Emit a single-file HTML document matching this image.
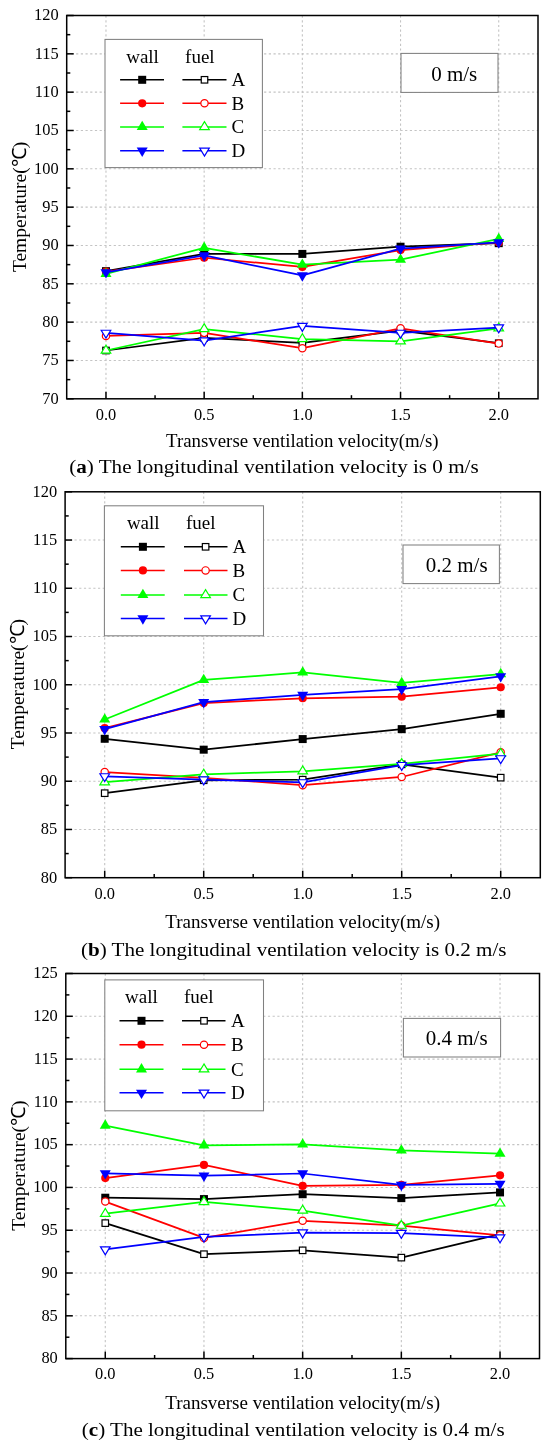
<!DOCTYPE html>
<html><head><meta charset="utf-8"><style>
html,body{margin:0;padding:0;background:#fff;}
body{width:550px;height:1447px;overflow:hidden;font-family:"Liberation Serif", serif;}
svg{display:block;filter:blur(0.35px);}
</style></head><body>
<svg width="550" height="1447" viewBox="0 0 550 1447" font-family='"Liberation Serif", serif'>
<rect width="550" height="1447" fill="#fff"/>
<line x1="105.98" y1="15.50" x2="105.98" y2="398.80" stroke="#c4c4c4" stroke-width="1.1" stroke-dasharray="2.2 2.5"/>
<line x1="204.16" y1="15.50" x2="204.16" y2="398.80" stroke="#c4c4c4" stroke-width="1.1" stroke-dasharray="2.2 2.5"/>
<line x1="302.35" y1="15.50" x2="302.35" y2="398.80" stroke="#c4c4c4" stroke-width="1.1" stroke-dasharray="2.2 2.5"/>
<line x1="400.54" y1="15.50" x2="400.54" y2="398.80" stroke="#c4c4c4" stroke-width="1.1" stroke-dasharray="2.2 2.5"/>
<line x1="498.73" y1="15.50" x2="498.73" y2="398.80" stroke="#c4c4c4" stroke-width="1.1" stroke-dasharray="2.2 2.5"/>
<line x1="66.70" y1="360.47" x2="538.00" y2="360.47" stroke="#c4c4c4" stroke-width="1.1" stroke-dasharray="2.2 2.5"/>
<line x1="66.70" y1="322.14" x2="538.00" y2="322.14" stroke="#c4c4c4" stroke-width="1.1" stroke-dasharray="2.2 2.5"/>
<line x1="66.70" y1="283.81" x2="538.00" y2="283.81" stroke="#c4c4c4" stroke-width="1.1" stroke-dasharray="2.2 2.5"/>
<line x1="66.70" y1="245.48" x2="538.00" y2="245.48" stroke="#c4c4c4" stroke-width="1.1" stroke-dasharray="2.2 2.5"/>
<line x1="66.70" y1="207.15" x2="538.00" y2="207.15" stroke="#c4c4c4" stroke-width="1.1" stroke-dasharray="2.2 2.5"/>
<line x1="66.70" y1="168.82" x2="538.00" y2="168.82" stroke="#c4c4c4" stroke-width="1.1" stroke-dasharray="2.2 2.5"/>
<line x1="66.70" y1="130.49" x2="538.00" y2="130.49" stroke="#c4c4c4" stroke-width="1.1" stroke-dasharray="2.2 2.5"/>
<line x1="66.70" y1="92.16" x2="538.00" y2="92.16" stroke="#c4c4c4" stroke-width="1.1" stroke-dasharray="2.2 2.5"/>
<line x1="66.70" y1="53.83" x2="538.00" y2="53.83" stroke="#c4c4c4" stroke-width="1.1" stroke-dasharray="2.2 2.5"/>
<rect x="105.00" y="39.40" width="157.40" height="128.20" fill="#fff" stroke="#808080" stroke-width="1.05"/>
<text x="126.20" y="62.50" font-size="19">wall</text>
<text x="185.10" y="62.50" font-size="19">fuel</text>
<line x1="120.10" y1="79.80" x2="164.00" y2="79.80" stroke="#000000" stroke-width="1.5"/>
<rect x="138.20" y="75.80" width="8.00" height="8.00" fill="#000000" stroke="#000000" stroke-width="0"/>
<line x1="182.40" y1="79.80" x2="226.50" y2="79.80" stroke="#000000" stroke-width="1.5"/>
<rect x="201.25" y="76.55" width="6.50" height="6.50" fill="#ffffff" stroke="#000000" stroke-width="1.2"/>
<text x="231.50" y="86.00" font-size="19">A</text>
<line x1="120.10" y1="103.30" x2="164.00" y2="103.30" stroke="#ff0000" stroke-width="1.5"/>
<circle cx="142.20" cy="103.30" r="4.10" fill="#ff0000" stroke="#ff0000" stroke-width="0"/>
<line x1="182.40" y1="103.30" x2="226.50" y2="103.30" stroke="#ff0000" stroke-width="1.5"/>
<circle cx="204.50" cy="103.30" r="3.65" fill="#ffffff" stroke="#ff0000" stroke-width="1.2"/>
<text x="231.50" y="109.50" font-size="19">B</text>
<line x1="120.10" y1="126.90" x2="164.00" y2="126.90" stroke="#00ff00" stroke-width="1.5"/>
<polygon points="142.20,120.63 136.70,130.03 147.70,130.03" fill="#00ff00" stroke="#00ff00" stroke-width="0" stroke-linejoin="miter"/>
<line x1="182.40" y1="126.90" x2="226.50" y2="126.90" stroke="#00ff00" stroke-width="1.5"/>
<polygon points="204.50,121.63 199.70,129.53 209.30,129.53" fill="#ffffff" stroke="#00ff00" stroke-width="1.2" stroke-linejoin="miter"/>
<text x="231.50" y="133.10" font-size="19">C</text>
<line x1="120.10" y1="150.70" x2="164.00" y2="150.70" stroke="#0000ff" stroke-width="1.5"/>
<polygon points="136.70,147.57 147.70,147.57 142.20,156.97" fill="#0000ff" stroke="#0000ff" stroke-width="0" stroke-linejoin="miter"/>
<line x1="182.40" y1="150.70" x2="226.50" y2="150.70" stroke="#0000ff" stroke-width="1.5"/>
<polygon points="199.70,148.07 209.30,148.07 204.50,155.97" fill="#ffffff" stroke="#0000ff" stroke-width="1.2" stroke-linejoin="miter"/>
<text x="231.50" y="156.90" font-size="19">D</text>
<rect x="401.00" y="53.40" width="97.00" height="39.00" fill="#fff" stroke="#808080" stroke-width="1.05"/>
<text x="454.20" y="80.60" font-size="21" text-anchor="middle">0 m/s</text>
<polyline points="105.98,271.16 204.16,253.91 302.35,253.91 400.54,246.71 498.73,243.18" fill="none" stroke="#000000" stroke-width="1.75" stroke-linejoin="round"/>
<rect x="101.98" y="267.16" width="8.00" height="8.00" fill="#000000" stroke="#000000" stroke-width="0"/>
<rect x="200.16" y="249.91" width="8.00" height="8.00" fill="#000000" stroke="#000000" stroke-width="0"/>
<rect x="298.35" y="249.91" width="8.00" height="8.00" fill="#000000" stroke="#000000" stroke-width="0"/>
<rect x="396.54" y="242.71" width="8.00" height="8.00" fill="#000000" stroke="#000000" stroke-width="0"/>
<rect x="494.73" y="239.18" width="8.00" height="8.00" fill="#000000" stroke="#000000" stroke-width="0"/>
<polyline points="105.98,271.54 204.16,257.75 302.35,266.94 400.54,250.08 498.73,242.41" fill="none" stroke="#ff0000" stroke-width="1.75" stroke-linejoin="round"/>
<circle cx="105.98" cy="271.54" r="4.10" fill="#ff0000" stroke="#ff0000" stroke-width="0"/>
<circle cx="204.16" cy="257.75" r="4.10" fill="#ff0000" stroke="#ff0000" stroke-width="0"/>
<circle cx="302.35" cy="266.94" r="4.10" fill="#ff0000" stroke="#ff0000" stroke-width="0"/>
<circle cx="400.54" cy="250.08" r="4.10" fill="#ff0000" stroke="#ff0000" stroke-width="0"/>
<circle cx="498.73" cy="242.41" r="4.10" fill="#ff0000" stroke="#ff0000" stroke-width="0"/>
<polyline points="105.98,273.84 204.16,247.78 302.35,264.64 400.54,259.66 498.73,238.96" fill="none" stroke="#00ff00" stroke-width="1.75" stroke-linejoin="round"/>
<polygon points="105.98,267.58 100.48,276.98 111.48,276.98" fill="#00ff00" stroke="#00ff00" stroke-width="0" stroke-linejoin="miter"/>
<polygon points="204.16,241.51 198.66,250.91 209.66,250.91" fill="#00ff00" stroke="#00ff00" stroke-width="0" stroke-linejoin="miter"/>
<polygon points="302.35,258.38 296.85,267.78 307.85,267.78" fill="#00ff00" stroke="#00ff00" stroke-width="0" stroke-linejoin="miter"/>
<polygon points="400.54,253.40 395.04,262.80 406.04,262.80" fill="#00ff00" stroke="#00ff00" stroke-width="0" stroke-linejoin="miter"/>
<polygon points="498.73,232.70 493.23,242.10 504.23,242.10" fill="#00ff00" stroke="#00ff00" stroke-width="0" stroke-linejoin="miter"/>
<polyline points="105.98,272.31 204.16,255.45 302.35,275.38 400.54,248.55 498.73,242.41" fill="none" stroke="#0000ff" stroke-width="1.75" stroke-linejoin="round"/>
<polygon points="100.48,269.18 111.48,269.18 105.98,278.58" fill="#0000ff" stroke="#0000ff" stroke-width="0" stroke-linejoin="miter"/>
<polygon points="198.66,252.31 209.66,252.31 204.16,261.71" fill="#0000ff" stroke="#0000ff" stroke-width="0" stroke-linejoin="miter"/>
<polygon points="296.85,272.24 307.85,272.24 302.35,281.64" fill="#0000ff" stroke="#0000ff" stroke-width="0" stroke-linejoin="miter"/>
<polygon points="395.04,245.41 406.04,245.41 400.54,254.81" fill="#0000ff" stroke="#0000ff" stroke-width="0" stroke-linejoin="miter"/>
<polygon points="493.23,239.28 504.23,239.28 498.73,248.68" fill="#0000ff" stroke="#0000ff" stroke-width="0" stroke-linejoin="miter"/>
<polyline points="105.98,350.50 204.16,337.86 302.35,342.84 400.54,330.57 498.73,343.22" fill="none" stroke="#000000" stroke-width="1.75" stroke-linejoin="round"/>
<rect x="102.73" y="347.25" width="6.50" height="6.50" fill="#ffffff" stroke="#000000" stroke-width="1.2"/>
<rect x="200.91" y="334.61" width="6.50" height="6.50" fill="#ffffff" stroke="#000000" stroke-width="1.2"/>
<rect x="299.10" y="339.59" width="6.50" height="6.50" fill="#ffffff" stroke="#000000" stroke-width="1.2"/>
<rect x="397.29" y="327.32" width="6.50" height="6.50" fill="#ffffff" stroke="#000000" stroke-width="1.2"/>
<rect x="495.48" y="339.97" width="6.50" height="6.50" fill="#ffffff" stroke="#000000" stroke-width="1.2"/>
<polyline points="105.98,335.94 204.16,332.87 302.35,348.20 400.54,328.27 498.73,343.60" fill="none" stroke="#ff0000" stroke-width="1.75" stroke-linejoin="round"/>
<circle cx="105.98" cy="335.94" r="3.65" fill="#ffffff" stroke="#ff0000" stroke-width="1.2"/>
<circle cx="204.16" cy="332.87" r="3.65" fill="#ffffff" stroke="#ff0000" stroke-width="1.2"/>
<circle cx="302.35" cy="348.20" r="3.65" fill="#ffffff" stroke="#ff0000" stroke-width="1.2"/>
<circle cx="400.54" cy="328.27" r="3.65" fill="#ffffff" stroke="#ff0000" stroke-width="1.2"/>
<circle cx="498.73" cy="343.60" r="3.65" fill="#ffffff" stroke="#ff0000" stroke-width="1.2"/>
<polyline points="105.98,350.50 204.16,329.04 302.35,339.01 400.54,341.31 498.73,328.27" fill="none" stroke="#00ff00" stroke-width="1.75" stroke-linejoin="round"/>
<polygon points="105.98,345.24 101.18,353.14 110.78,353.14" fill="#ffffff" stroke="#00ff00" stroke-width="1.2" stroke-linejoin="miter"/>
<polygon points="204.16,323.77 199.36,331.67 208.96,331.67" fill="#ffffff" stroke="#00ff00" stroke-width="1.2" stroke-linejoin="miter"/>
<polygon points="302.35,333.74 297.55,341.64 307.15,341.64" fill="#ffffff" stroke="#00ff00" stroke-width="1.2" stroke-linejoin="miter"/>
<polygon points="400.54,336.04 395.74,343.94 405.34,343.94" fill="#ffffff" stroke="#00ff00" stroke-width="1.2" stroke-linejoin="miter"/>
<polygon points="498.73,323.01 493.93,330.91 503.53,330.91" fill="#ffffff" stroke="#00ff00" stroke-width="1.2" stroke-linejoin="miter"/>
<polyline points="105.98,332.87 204.16,340.54 302.35,325.97 400.54,332.87 498.73,327.51" fill="none" stroke="#0000ff" stroke-width="1.75" stroke-linejoin="round"/>
<polygon points="101.18,330.24 110.78,330.24 105.98,338.14" fill="#ffffff" stroke="#0000ff" stroke-width="1.2" stroke-linejoin="miter"/>
<polygon points="199.36,337.91 208.96,337.91 204.16,345.81" fill="#ffffff" stroke="#0000ff" stroke-width="1.2" stroke-linejoin="miter"/>
<polygon points="297.55,323.34 307.15,323.34 302.35,331.24" fill="#ffffff" stroke="#0000ff" stroke-width="1.2" stroke-linejoin="miter"/>
<polygon points="395.74,330.24 405.34,330.24 400.54,338.14" fill="#ffffff" stroke="#0000ff" stroke-width="1.2" stroke-linejoin="miter"/>
<polygon points="493.93,324.87 503.53,324.87 498.73,332.77" fill="#ffffff" stroke="#0000ff" stroke-width="1.2" stroke-linejoin="miter"/>
<rect x="66.70" y="15.50" width="471.30" height="383.30" fill="none" stroke="#000" stroke-width="1.5"/>
<line x1="66.70" y1="398.80" x2="73.70" y2="398.80" stroke="#000" stroke-width="1.5"/>
<line x1="66.70" y1="379.63" x2="70.30" y2="379.63" stroke="#000" stroke-width="1.5"/>
<text x="58.70" y="403.60" font-size="16.4" text-anchor="end">70</text>
<line x1="66.70" y1="360.47" x2="73.70" y2="360.47" stroke="#000" stroke-width="1.5"/>
<line x1="66.70" y1="341.31" x2="70.30" y2="341.31" stroke="#000" stroke-width="1.5"/>
<text x="58.70" y="365.27" font-size="16.4" text-anchor="end">75</text>
<line x1="66.70" y1="322.14" x2="73.70" y2="322.14" stroke="#000" stroke-width="1.5"/>
<line x1="66.70" y1="302.98" x2="70.30" y2="302.98" stroke="#000" stroke-width="1.5"/>
<text x="58.70" y="326.94" font-size="16.4" text-anchor="end">80</text>
<line x1="66.70" y1="283.81" x2="73.70" y2="283.81" stroke="#000" stroke-width="1.5"/>
<line x1="66.70" y1="264.64" x2="70.30" y2="264.64" stroke="#000" stroke-width="1.5"/>
<text x="58.70" y="288.61" font-size="16.4" text-anchor="end">85</text>
<line x1="66.70" y1="245.48" x2="73.70" y2="245.48" stroke="#000" stroke-width="1.5"/>
<line x1="66.70" y1="226.32" x2="70.30" y2="226.32" stroke="#000" stroke-width="1.5"/>
<text x="58.70" y="250.28" font-size="16.4" text-anchor="end">90</text>
<line x1="66.70" y1="207.15" x2="73.70" y2="207.15" stroke="#000" stroke-width="1.5"/>
<line x1="66.70" y1="187.99" x2="70.30" y2="187.99" stroke="#000" stroke-width="1.5"/>
<text x="58.70" y="211.95" font-size="16.4" text-anchor="end">95</text>
<line x1="66.70" y1="168.82" x2="73.70" y2="168.82" stroke="#000" stroke-width="1.5"/>
<line x1="66.70" y1="149.66" x2="70.30" y2="149.66" stroke="#000" stroke-width="1.5"/>
<text x="58.70" y="173.62" font-size="16.4" text-anchor="end">100</text>
<line x1="66.70" y1="130.49" x2="73.70" y2="130.49" stroke="#000" stroke-width="1.5"/>
<line x1="66.70" y1="111.33" x2="70.30" y2="111.33" stroke="#000" stroke-width="1.5"/>
<text x="58.70" y="135.29" font-size="16.4" text-anchor="end">105</text>
<line x1="66.70" y1="92.16" x2="73.70" y2="92.16" stroke="#000" stroke-width="1.5"/>
<line x1="66.70" y1="73.00" x2="70.30" y2="73.00" stroke="#000" stroke-width="1.5"/>
<text x="58.70" y="96.96" font-size="16.4" text-anchor="end">110</text>
<line x1="66.70" y1="53.83" x2="73.70" y2="53.83" stroke="#000" stroke-width="1.5"/>
<line x1="66.70" y1="34.67" x2="70.30" y2="34.67" stroke="#000" stroke-width="1.5"/>
<text x="58.70" y="58.63" font-size="16.4" text-anchor="end">115</text>
<line x1="66.70" y1="15.50" x2="73.70" y2="15.50" stroke="#000" stroke-width="1.5"/>
<text x="58.70" y="20.30" font-size="16.4" text-anchor="end">120</text>
<line x1="105.98" y1="398.80" x2="105.98" y2="391.80" stroke="#000" stroke-width="1.5"/>
<line x1="155.07" y1="398.80" x2="155.07" y2="395.20" stroke="#000" stroke-width="1.5"/>
<text x="105.98" y="419.50" font-size="16.4" text-anchor="middle">0.0</text>
<line x1="204.16" y1="398.80" x2="204.16" y2="391.80" stroke="#000" stroke-width="1.5"/>
<line x1="253.26" y1="398.80" x2="253.26" y2="395.20" stroke="#000" stroke-width="1.5"/>
<text x="204.16" y="419.50" font-size="16.4" text-anchor="middle">0.5</text>
<line x1="302.35" y1="398.80" x2="302.35" y2="391.80" stroke="#000" stroke-width="1.5"/>
<line x1="351.44" y1="398.80" x2="351.44" y2="395.20" stroke="#000" stroke-width="1.5"/>
<text x="302.35" y="419.50" font-size="16.4" text-anchor="middle">1.0</text>
<line x1="400.54" y1="398.80" x2="400.54" y2="391.80" stroke="#000" stroke-width="1.5"/>
<line x1="449.63" y1="398.80" x2="449.63" y2="395.20" stroke="#000" stroke-width="1.5"/>
<text x="400.54" y="419.50" font-size="16.4" text-anchor="middle">1.5</text>
<line x1="498.73" y1="398.80" x2="498.73" y2="391.80" stroke="#000" stroke-width="1.5"/>
<text x="498.73" y="419.50" font-size="16.4" text-anchor="middle">2.0</text>
<text x="302.35" y="446.80" font-size="18.85" text-anchor="middle">Transverse ventilation velocity(m/s)</text>
<text transform="translate(26.40,207.00) rotate(-90)" x="0" y="0" font-size="19.5" text-anchor="middle">Temperature(℃)</text>
<text x="69.20" y="472.70" font-size="18.5" textLength="409.50" lengthAdjust="spacingAndGlyphs">(<tspan font-weight="bold">a</tspan>) The longitudinal ventilation velocity is 0 m/s</text>
<line x1="104.70" y1="491.80" x2="104.70" y2="877.70" stroke="#c4c4c4" stroke-width="1.1" stroke-dasharray="2.2 2.5"/>
<line x1="203.70" y1="491.80" x2="203.70" y2="877.70" stroke="#c4c4c4" stroke-width="1.1" stroke-dasharray="2.2 2.5"/>
<line x1="302.70" y1="491.80" x2="302.70" y2="877.70" stroke="#c4c4c4" stroke-width="1.1" stroke-dasharray="2.2 2.5"/>
<line x1="401.70" y1="491.80" x2="401.70" y2="877.70" stroke="#c4c4c4" stroke-width="1.1" stroke-dasharray="2.2 2.5"/>
<line x1="500.70" y1="491.80" x2="500.70" y2="877.70" stroke="#c4c4c4" stroke-width="1.1" stroke-dasharray="2.2 2.5"/>
<line x1="65.10" y1="829.46" x2="540.30" y2="829.46" stroke="#c4c4c4" stroke-width="1.1" stroke-dasharray="2.2 2.5"/>
<line x1="65.10" y1="781.23" x2="540.30" y2="781.23" stroke="#c4c4c4" stroke-width="1.1" stroke-dasharray="2.2 2.5"/>
<line x1="65.10" y1="732.99" x2="540.30" y2="732.99" stroke="#c4c4c4" stroke-width="1.1" stroke-dasharray="2.2 2.5"/>
<line x1="65.10" y1="684.75" x2="540.30" y2="684.75" stroke="#c4c4c4" stroke-width="1.1" stroke-dasharray="2.2 2.5"/>
<line x1="65.10" y1="636.51" x2="540.30" y2="636.51" stroke="#c4c4c4" stroke-width="1.1" stroke-dasharray="2.2 2.5"/>
<line x1="65.10" y1="588.27" x2="540.30" y2="588.27" stroke="#c4c4c4" stroke-width="1.1" stroke-dasharray="2.2 2.5"/>
<line x1="65.10" y1="540.04" x2="540.30" y2="540.04" stroke="#c4c4c4" stroke-width="1.1" stroke-dasharray="2.2 2.5"/>
<rect x="104.40" y="505.80" width="159.10" height="130.00" fill="#fff" stroke="#808080" stroke-width="1.05"/>
<text x="126.90" y="528.70" font-size="19">wall</text>
<text x="186.00" y="528.70" font-size="19">fuel</text>
<line x1="120.80" y1="546.80" x2="164.70" y2="546.80" stroke="#000000" stroke-width="1.5"/>
<rect x="138.90" y="542.80" width="8.00" height="8.00" fill="#000000" stroke="#000000" stroke-width="0"/>
<line x1="184.00" y1="546.80" x2="227.50" y2="546.80" stroke="#000000" stroke-width="1.5"/>
<rect x="202.35" y="543.55" width="6.50" height="6.50" fill="#ffffff" stroke="#000000" stroke-width="1.2"/>
<text x="232.50" y="553.00" font-size="19">A</text>
<line x1="120.80" y1="570.40" x2="164.70" y2="570.40" stroke="#ff0000" stroke-width="1.5"/>
<circle cx="142.90" cy="570.40" r="4.10" fill="#ff0000" stroke="#ff0000" stroke-width="0"/>
<line x1="184.00" y1="570.40" x2="227.50" y2="570.40" stroke="#ff0000" stroke-width="1.5"/>
<circle cx="205.60" cy="570.40" r="3.65" fill="#ffffff" stroke="#ff0000" stroke-width="1.2"/>
<text x="232.50" y="576.60" font-size="19">B</text>
<line x1="120.80" y1="594.90" x2="164.70" y2="594.90" stroke="#00ff00" stroke-width="1.5"/>
<polygon points="142.90,588.63 137.40,598.03 148.40,598.03" fill="#00ff00" stroke="#00ff00" stroke-width="0" stroke-linejoin="miter"/>
<line x1="184.00" y1="594.90" x2="227.50" y2="594.90" stroke="#00ff00" stroke-width="1.5"/>
<polygon points="205.60,589.63 200.80,597.53 210.40,597.53" fill="#ffffff" stroke="#00ff00" stroke-width="1.2" stroke-linejoin="miter"/>
<text x="232.50" y="601.10" font-size="19">C</text>
<line x1="120.80" y1="618.50" x2="164.70" y2="618.50" stroke="#0000ff" stroke-width="1.5"/>
<polygon points="137.40,615.37 148.40,615.37 142.90,624.77" fill="#0000ff" stroke="#0000ff" stroke-width="0" stroke-linejoin="miter"/>
<line x1="184.00" y1="618.50" x2="227.50" y2="618.50" stroke="#0000ff" stroke-width="1.5"/>
<polygon points="200.80,615.87 210.40,615.87 205.60,623.77" fill="#ffffff" stroke="#0000ff" stroke-width="1.2" stroke-linejoin="miter"/>
<text x="232.50" y="624.70" font-size="19">D</text>
<rect x="403.00" y="545.00" width="96.40" height="38.60" fill="#fff" stroke="#808080" stroke-width="1.05"/>
<text x="456.70" y="572.00" font-size="21" text-anchor="middle">0.2 m/s</text>
<polyline points="104.70,738.78 203.70,749.68 302.70,739.07 401.70,729.13 500.70,713.79" fill="none" stroke="#000000" stroke-width="1.75" stroke-linejoin="round"/>
<rect x="100.70" y="734.78" width="8.00" height="8.00" fill="#000000" stroke="#000000" stroke-width="0"/>
<rect x="199.70" y="745.68" width="8.00" height="8.00" fill="#000000" stroke="#000000" stroke-width="0"/>
<rect x="298.70" y="735.07" width="8.00" height="8.00" fill="#000000" stroke="#000000" stroke-width="0"/>
<rect x="397.70" y="725.13" width="8.00" height="8.00" fill="#000000" stroke="#000000" stroke-width="0"/>
<rect x="496.70" y="709.79" width="8.00" height="8.00" fill="#000000" stroke="#000000" stroke-width="0"/>
<polyline points="104.70,728.16 203.70,703.08 302.70,698.26 401.70,696.71 500.70,687.26" fill="none" stroke="#ff0000" stroke-width="1.75" stroke-linejoin="round"/>
<circle cx="104.70" cy="728.16" r="4.10" fill="#ff0000" stroke="#ff0000" stroke-width="0"/>
<circle cx="203.70" cy="703.08" r="4.10" fill="#ff0000" stroke="#ff0000" stroke-width="0"/>
<circle cx="302.70" cy="698.26" r="4.10" fill="#ff0000" stroke="#ff0000" stroke-width="0"/>
<circle cx="401.70" cy="696.71" r="4.10" fill="#ff0000" stroke="#ff0000" stroke-width="0"/>
<circle cx="500.70" cy="687.26" r="4.10" fill="#ff0000" stroke="#ff0000" stroke-width="0"/>
<polyline points="104.70,719.48 203.70,679.93 302.70,672.40 401.70,682.92 500.70,674.14" fill="none" stroke="#00ff00" stroke-width="1.75" stroke-linejoin="round"/>
<polygon points="104.70,713.21 99.20,722.61 110.20,722.61" fill="#00ff00" stroke="#00ff00" stroke-width="0" stroke-linejoin="miter"/>
<polygon points="203.70,673.66 198.20,683.06 209.20,683.06" fill="#00ff00" stroke="#00ff00" stroke-width="0" stroke-linejoin="miter"/>
<polygon points="302.70,666.13 297.20,675.53 308.20,675.53" fill="#00ff00" stroke="#00ff00" stroke-width="0" stroke-linejoin="miter"/>
<polygon points="401.70,676.65 396.20,686.05 407.20,686.05" fill="#00ff00" stroke="#00ff00" stroke-width="0" stroke-linejoin="miter"/>
<polygon points="500.70,667.87 495.20,677.27 506.20,677.27" fill="#00ff00" stroke="#00ff00" stroke-width="0" stroke-linejoin="miter"/>
<polyline points="104.70,729.13 203.70,702.12 302.70,694.88 401.70,689.09 500.70,676.36" fill="none" stroke="#0000ff" stroke-width="1.75" stroke-linejoin="round"/>
<polygon points="99.20,726.00 110.20,726.00 104.70,735.40" fill="#0000ff" stroke="#0000ff" stroke-width="0" stroke-linejoin="miter"/>
<polygon points="198.20,698.98 209.20,698.98 203.70,708.38" fill="#0000ff" stroke="#0000ff" stroke-width="0" stroke-linejoin="miter"/>
<polygon points="297.20,691.75 308.20,691.75 302.70,701.15" fill="#0000ff" stroke="#0000ff" stroke-width="0" stroke-linejoin="miter"/>
<polygon points="396.20,685.96 407.20,685.96 401.70,695.36" fill="#0000ff" stroke="#0000ff" stroke-width="0" stroke-linejoin="miter"/>
<polygon points="495.20,673.22 506.20,673.22 500.70,682.62" fill="#0000ff" stroke="#0000ff" stroke-width="0" stroke-linejoin="miter"/>
<polyline points="104.70,793.19 203.70,780.26 302.70,779.68 401.70,764.34 500.70,777.66" fill="none" stroke="#000000" stroke-width="1.75" stroke-linejoin="round"/>
<rect x="101.45" y="789.94" width="6.50" height="6.50" fill="#ffffff" stroke="#000000" stroke-width="1.2"/>
<rect x="200.45" y="777.01" width="6.50" height="6.50" fill="#ffffff" stroke="#000000" stroke-width="1.2"/>
<rect x="299.45" y="776.43" width="6.50" height="6.50" fill="#ffffff" stroke="#000000" stroke-width="1.2"/>
<rect x="398.45" y="761.09" width="6.50" height="6.50" fill="#ffffff" stroke="#000000" stroke-width="1.2"/>
<rect x="497.45" y="774.41" width="6.50" height="6.50" fill="#ffffff" stroke="#000000" stroke-width="1.2"/>
<polyline points="104.70,772.06 203.70,777.85 302.70,785.18 401.70,776.98 500.70,752.28" fill="none" stroke="#ff0000" stroke-width="1.75" stroke-linejoin="round"/>
<circle cx="104.70" cy="772.06" r="3.65" fill="#ffffff" stroke="#ff0000" stroke-width="1.2"/>
<circle cx="203.70" cy="777.85" r="3.65" fill="#ffffff" stroke="#ff0000" stroke-width="1.2"/>
<circle cx="302.70" cy="785.18" r="3.65" fill="#ffffff" stroke="#ff0000" stroke-width="1.2"/>
<circle cx="401.70" cy="776.98" r="3.65" fill="#ffffff" stroke="#ff0000" stroke-width="1.2"/>
<circle cx="500.70" cy="752.28" r="3.65" fill="#ffffff" stroke="#ff0000" stroke-width="1.2"/>
<polyline points="104.70,782.19 203.70,774.47 302.70,771.29 401.70,763.86 500.70,753.73" fill="none" stroke="#00ff00" stroke-width="1.75" stroke-linejoin="round"/>
<polygon points="104.70,776.92 99.90,784.82 109.50,784.82" fill="#ffffff" stroke="#00ff00" stroke-width="1.2" stroke-linejoin="miter"/>
<polygon points="203.70,769.21 198.90,777.11 208.50,777.11" fill="#ffffff" stroke="#00ff00" stroke-width="1.2" stroke-linejoin="miter"/>
<polygon points="302.70,766.02 297.90,773.92 307.50,773.92" fill="#ffffff" stroke="#00ff00" stroke-width="1.2" stroke-linejoin="miter"/>
<polygon points="401.70,758.59 396.90,766.49 406.50,766.49" fill="#ffffff" stroke="#00ff00" stroke-width="1.2" stroke-linejoin="miter"/>
<polygon points="500.70,748.46 495.90,756.36 505.50,756.36" fill="#ffffff" stroke="#00ff00" stroke-width="1.2" stroke-linejoin="miter"/>
<polyline points="104.70,776.40 203.70,779.58 302.70,782.38 401.70,765.11 500.70,758.36" fill="none" stroke="#0000ff" stroke-width="1.75" stroke-linejoin="round"/>
<polygon points="99.90,773.77 109.50,773.77 104.70,781.67" fill="#ffffff" stroke="#0000ff" stroke-width="1.2" stroke-linejoin="miter"/>
<polygon points="198.90,776.95 208.50,776.95 203.70,784.85" fill="#ffffff" stroke="#0000ff" stroke-width="1.2" stroke-linejoin="miter"/>
<polygon points="297.90,779.75 307.50,779.75 302.70,787.65" fill="#ffffff" stroke="#0000ff" stroke-width="1.2" stroke-linejoin="miter"/>
<polygon points="396.90,762.48 406.50,762.48 401.70,770.38" fill="#ffffff" stroke="#0000ff" stroke-width="1.2" stroke-linejoin="miter"/>
<polygon points="495.90,755.73 505.50,755.73 500.70,763.63" fill="#ffffff" stroke="#0000ff" stroke-width="1.2" stroke-linejoin="miter"/>
<rect x="65.10" y="491.80" width="475.20" height="385.90" fill="none" stroke="#000" stroke-width="1.5"/>
<line x1="65.10" y1="877.70" x2="72.10" y2="877.70" stroke="#000" stroke-width="1.5"/>
<line x1="65.10" y1="853.58" x2="68.70" y2="853.58" stroke="#000" stroke-width="1.5"/>
<text x="57.10" y="882.50" font-size="16.4" text-anchor="end">80</text>
<line x1="65.10" y1="829.46" x2="72.10" y2="829.46" stroke="#000" stroke-width="1.5"/>
<line x1="65.10" y1="805.34" x2="68.70" y2="805.34" stroke="#000" stroke-width="1.5"/>
<text x="57.10" y="834.26" font-size="16.4" text-anchor="end">85</text>
<line x1="65.10" y1="781.23" x2="72.10" y2="781.23" stroke="#000" stroke-width="1.5"/>
<line x1="65.10" y1="757.11" x2="68.70" y2="757.11" stroke="#000" stroke-width="1.5"/>
<text x="57.10" y="786.02" font-size="16.4" text-anchor="end">90</text>
<line x1="65.10" y1="732.99" x2="72.10" y2="732.99" stroke="#000" stroke-width="1.5"/>
<line x1="65.10" y1="708.87" x2="68.70" y2="708.87" stroke="#000" stroke-width="1.5"/>
<text x="57.10" y="737.79" font-size="16.4" text-anchor="end">95</text>
<line x1="65.10" y1="684.75" x2="72.10" y2="684.75" stroke="#000" stroke-width="1.5"/>
<line x1="65.10" y1="660.63" x2="68.70" y2="660.63" stroke="#000" stroke-width="1.5"/>
<text x="57.10" y="689.55" font-size="16.4" text-anchor="end">100</text>
<line x1="65.10" y1="636.51" x2="72.10" y2="636.51" stroke="#000" stroke-width="1.5"/>
<line x1="65.10" y1="612.39" x2="68.70" y2="612.39" stroke="#000" stroke-width="1.5"/>
<text x="57.10" y="641.31" font-size="16.4" text-anchor="end">105</text>
<line x1="65.10" y1="588.27" x2="72.10" y2="588.27" stroke="#000" stroke-width="1.5"/>
<line x1="65.10" y1="564.16" x2="68.70" y2="564.16" stroke="#000" stroke-width="1.5"/>
<text x="57.10" y="593.07" font-size="16.4" text-anchor="end">110</text>
<line x1="65.10" y1="540.04" x2="72.10" y2="540.04" stroke="#000" stroke-width="1.5"/>
<line x1="65.10" y1="515.92" x2="68.70" y2="515.92" stroke="#000" stroke-width="1.5"/>
<text x="57.10" y="544.84" font-size="16.4" text-anchor="end">115</text>
<line x1="65.10" y1="491.80" x2="72.10" y2="491.80" stroke="#000" stroke-width="1.5"/>
<text x="57.10" y="496.60" font-size="16.4" text-anchor="end">120</text>
<line x1="104.70" y1="877.70" x2="104.70" y2="870.70" stroke="#000" stroke-width="1.5"/>
<line x1="154.20" y1="877.70" x2="154.20" y2="874.10" stroke="#000" stroke-width="1.5"/>
<text x="104.70" y="898.50" font-size="16.4" text-anchor="middle">0.0</text>
<line x1="203.70" y1="877.70" x2="203.70" y2="870.70" stroke="#000" stroke-width="1.5"/>
<line x1="253.20" y1="877.70" x2="253.20" y2="874.10" stroke="#000" stroke-width="1.5"/>
<text x="203.70" y="898.50" font-size="16.4" text-anchor="middle">0.5</text>
<line x1="302.70" y1="877.70" x2="302.70" y2="870.70" stroke="#000" stroke-width="1.5"/>
<line x1="352.20" y1="877.70" x2="352.20" y2="874.10" stroke="#000" stroke-width="1.5"/>
<text x="302.70" y="898.50" font-size="16.4" text-anchor="middle">1.0</text>
<line x1="401.70" y1="877.70" x2="401.70" y2="870.70" stroke="#000" stroke-width="1.5"/>
<line x1="451.20" y1="877.70" x2="451.20" y2="874.10" stroke="#000" stroke-width="1.5"/>
<text x="401.70" y="898.50" font-size="16.4" text-anchor="middle">1.5</text>
<line x1="500.70" y1="877.70" x2="500.70" y2="870.70" stroke="#000" stroke-width="1.5"/>
<text x="500.70" y="898.50" font-size="16.4" text-anchor="middle">2.0</text>
<text x="302.70" y="928.20" font-size="19" text-anchor="middle">Transverse ventilation velocity(m/s)</text>
<text transform="translate(24.00,684.10) rotate(-90)" x="0" y="0" font-size="19.5" text-anchor="middle">Temperature(℃)</text>
<text x="80.90" y="955.90" font-size="18.5" textLength="425.60" lengthAdjust="spacingAndGlyphs">(<tspan font-weight="bold">b</tspan>) The longitudinal ventilation velocity is 0.2 m/s</text>
<line x1="105.28" y1="973.50" x2="105.28" y2="1358.60" stroke="#c4c4c4" stroke-width="1.1" stroke-dasharray="2.2 2.5"/>
<line x1="203.96" y1="973.50" x2="203.96" y2="1358.60" stroke="#c4c4c4" stroke-width="1.1" stroke-dasharray="2.2 2.5"/>
<line x1="302.65" y1="973.50" x2="302.65" y2="1358.60" stroke="#c4c4c4" stroke-width="1.1" stroke-dasharray="2.2 2.5"/>
<line x1="401.34" y1="973.50" x2="401.34" y2="1358.60" stroke="#c4c4c4" stroke-width="1.1" stroke-dasharray="2.2 2.5"/>
<line x1="500.03" y1="973.50" x2="500.03" y2="1358.60" stroke="#c4c4c4" stroke-width="1.1" stroke-dasharray="2.2 2.5"/>
<line x1="65.80" y1="1315.81" x2="539.50" y2="1315.81" stroke="#c4c4c4" stroke-width="1.1" stroke-dasharray="2.2 2.5"/>
<line x1="65.80" y1="1273.02" x2="539.50" y2="1273.02" stroke="#c4c4c4" stroke-width="1.1" stroke-dasharray="2.2 2.5"/>
<line x1="65.80" y1="1230.23" x2="539.50" y2="1230.23" stroke="#c4c4c4" stroke-width="1.1" stroke-dasharray="2.2 2.5"/>
<line x1="65.80" y1="1187.44" x2="539.50" y2="1187.44" stroke="#c4c4c4" stroke-width="1.1" stroke-dasharray="2.2 2.5"/>
<line x1="65.80" y1="1144.66" x2="539.50" y2="1144.66" stroke="#c4c4c4" stroke-width="1.1" stroke-dasharray="2.2 2.5"/>
<line x1="65.80" y1="1101.87" x2="539.50" y2="1101.87" stroke="#c4c4c4" stroke-width="1.1" stroke-dasharray="2.2 2.5"/>
<line x1="65.80" y1="1059.08" x2="539.50" y2="1059.08" stroke="#c4c4c4" stroke-width="1.1" stroke-dasharray="2.2 2.5"/>
<line x1="65.80" y1="1016.29" x2="539.50" y2="1016.29" stroke="#c4c4c4" stroke-width="1.1" stroke-dasharray="2.2 2.5"/>
<rect x="104.80" y="979.90" width="158.70" height="130.90" fill="#fff" stroke="#808080" stroke-width="1.05"/>
<text x="125.10" y="1002.50" font-size="19">wall</text>
<text x="184.00" y="1002.50" font-size="19">fuel</text>
<line x1="119.50" y1="1020.80" x2="163.50" y2="1020.80" stroke="#000000" stroke-width="1.5"/>
<rect x="137.50" y="1016.80" width="8.00" height="8.00" fill="#000000" stroke="#000000" stroke-width="0"/>
<line x1="182.00" y1="1020.80" x2="225.50" y2="1020.80" stroke="#000000" stroke-width="1.5"/>
<rect x="200.75" y="1017.55" width="6.50" height="6.50" fill="#ffffff" stroke="#000000" stroke-width="1.2"/>
<text x="231.00" y="1027.00" font-size="19">A</text>
<line x1="119.50" y1="1044.70" x2="163.50" y2="1044.70" stroke="#ff0000" stroke-width="1.5"/>
<circle cx="141.50" cy="1044.70" r="4.10" fill="#ff0000" stroke="#ff0000" stroke-width="0"/>
<line x1="182.00" y1="1044.70" x2="225.50" y2="1044.70" stroke="#ff0000" stroke-width="1.5"/>
<circle cx="204.00" cy="1044.70" r="3.65" fill="#ffffff" stroke="#ff0000" stroke-width="1.2"/>
<text x="231.00" y="1050.90" font-size="19">B</text>
<line x1="119.50" y1="1069.30" x2="163.50" y2="1069.30" stroke="#00ff00" stroke-width="1.5"/>
<polygon points="141.50,1063.03 136.00,1072.43 147.00,1072.43" fill="#00ff00" stroke="#00ff00" stroke-width="0" stroke-linejoin="miter"/>
<line x1="182.00" y1="1069.30" x2="225.50" y2="1069.30" stroke="#00ff00" stroke-width="1.5"/>
<polygon points="204.00,1064.03 199.20,1071.93 208.80,1071.93" fill="#ffffff" stroke="#00ff00" stroke-width="1.2" stroke-linejoin="miter"/>
<text x="231.00" y="1075.50" font-size="19">C</text>
<line x1="119.50" y1="1092.80" x2="163.50" y2="1092.80" stroke="#0000ff" stroke-width="1.5"/>
<polygon points="136.00,1089.67 147.00,1089.67 141.50,1099.07" fill="#0000ff" stroke="#0000ff" stroke-width="0" stroke-linejoin="miter"/>
<line x1="182.00" y1="1092.80" x2="225.50" y2="1092.80" stroke="#0000ff" stroke-width="1.5"/>
<polygon points="199.20,1090.17 208.80,1090.17 204.00,1098.07" fill="#ffffff" stroke="#0000ff" stroke-width="1.2" stroke-linejoin="miter"/>
<text x="231.00" y="1099.00" font-size="19">D</text>
<rect x="403.40" y="1018.40" width="97.20" height="38.60" fill="#fff" stroke="#808080" stroke-width="1.05"/>
<text x="456.70" y="1045.00" font-size="21" text-anchor="middle">0.4 m/s</text>
<polyline points="105.28,1197.71 203.96,1199.08 302.65,1194.21 401.34,1198.14 500.03,1192.41" fill="none" stroke="#000000" stroke-width="1.75" stroke-linejoin="round"/>
<rect x="101.28" y="1193.71" width="8.00" height="8.00" fill="#000000" stroke="#000000" stroke-width="0"/>
<rect x="199.96" y="1195.08" width="8.00" height="8.00" fill="#000000" stroke="#000000" stroke-width="0"/>
<rect x="298.65" y="1190.21" width="8.00" height="8.00" fill="#000000" stroke="#000000" stroke-width="0"/>
<rect x="397.34" y="1194.14" width="8.00" height="8.00" fill="#000000" stroke="#000000" stroke-width="0"/>
<rect x="496.03" y="1188.41" width="8.00" height="8.00" fill="#000000" stroke="#000000" stroke-width="0"/>
<polyline points="105.28,1178.03 203.96,1164.94 302.65,1185.90 401.34,1184.88 500.03,1175.29" fill="none" stroke="#ff0000" stroke-width="1.75" stroke-linejoin="round"/>
<circle cx="105.28" cy="1178.03" r="4.10" fill="#ff0000" stroke="#ff0000" stroke-width="0"/>
<circle cx="203.96" cy="1164.94" r="4.10" fill="#ff0000" stroke="#ff0000" stroke-width="0"/>
<circle cx="302.65" cy="1185.90" r="4.10" fill="#ff0000" stroke="#ff0000" stroke-width="0"/>
<circle cx="401.34" cy="1184.88" r="4.10" fill="#ff0000" stroke="#ff0000" stroke-width="0"/>
<circle cx="500.03" cy="1175.29" r="4.10" fill="#ff0000" stroke="#ff0000" stroke-width="0"/>
<polyline points="105.28,1125.57 203.96,1145.34 302.65,1144.48 401.34,1150.47 500.03,1153.73" fill="none" stroke="#00ff00" stroke-width="1.75" stroke-linejoin="round"/>
<polygon points="105.28,1119.31 99.78,1128.71 110.78,1128.71" fill="#00ff00" stroke="#00ff00" stroke-width="0" stroke-linejoin="miter"/>
<polygon points="203.96,1139.07 198.46,1148.47 209.46,1148.47" fill="#00ff00" stroke="#00ff00" stroke-width="0" stroke-linejoin="miter"/>
<polygon points="302.65,1138.22 297.15,1147.62 308.15,1147.62" fill="#00ff00" stroke="#00ff00" stroke-width="0" stroke-linejoin="miter"/>
<polygon points="401.34,1144.21 395.84,1153.61 406.84,1153.61" fill="#00ff00" stroke="#00ff00" stroke-width="0" stroke-linejoin="miter"/>
<polygon points="500.03,1147.46 494.53,1156.86 505.53,1156.86" fill="#00ff00" stroke="#00ff00" stroke-width="0" stroke-linejoin="miter"/>
<polyline points="105.28,1173.32 203.96,1175.72 302.65,1173.50 401.34,1184.88 500.03,1183.85" fill="none" stroke="#0000ff" stroke-width="1.75" stroke-linejoin="round"/>
<polygon points="99.78,1170.19 110.78,1170.19 105.28,1179.59" fill="#0000ff" stroke="#0000ff" stroke-width="0" stroke-linejoin="miter"/>
<polygon points="198.46,1172.59 209.46,1172.59 203.96,1181.99" fill="#0000ff" stroke="#0000ff" stroke-width="0" stroke-linejoin="miter"/>
<polygon points="297.15,1170.36 308.15,1170.36 302.65,1179.76" fill="#0000ff" stroke="#0000ff" stroke-width="0" stroke-linejoin="miter"/>
<polygon points="395.84,1181.74 406.84,1181.74 401.34,1191.14" fill="#0000ff" stroke="#0000ff" stroke-width="0" stroke-linejoin="miter"/>
<polygon points="494.53,1180.72 505.53,1180.72 500.03,1190.12" fill="#0000ff" stroke="#0000ff" stroke-width="0" stroke-linejoin="miter"/>
<polyline points="105.28,1223.13 203.96,1254.20 302.65,1250.34 401.34,1257.62 500.03,1234.08" fill="none" stroke="#000000" stroke-width="1.75" stroke-linejoin="round"/>
<rect x="102.03" y="1219.88" width="6.50" height="6.50" fill="#ffffff" stroke="#000000" stroke-width="1.2"/>
<rect x="200.71" y="1250.95" width="6.50" height="6.50" fill="#ffffff" stroke="#000000" stroke-width="1.2"/>
<rect x="299.40" y="1247.09" width="6.50" height="6.50" fill="#ffffff" stroke="#000000" stroke-width="1.2"/>
<rect x="398.09" y="1254.37" width="6.50" height="6.50" fill="#ffffff" stroke="#000000" stroke-width="1.2"/>
<rect x="496.78" y="1230.83" width="6.50" height="6.50" fill="#ffffff" stroke="#000000" stroke-width="1.2"/>
<polyline points="105.28,1201.56 203.96,1237.94 302.65,1220.82 401.34,1225.53 500.03,1235.37" fill="none" stroke="#ff0000" stroke-width="1.75" stroke-linejoin="round"/>
<circle cx="105.28" cy="1201.56" r="3.65" fill="#ffffff" stroke="#ff0000" stroke-width="1.2"/>
<circle cx="203.96" cy="1237.94" r="3.65" fill="#ffffff" stroke="#ff0000" stroke-width="1.2"/>
<circle cx="302.65" cy="1220.82" r="3.65" fill="#ffffff" stroke="#ff0000" stroke-width="1.2"/>
<circle cx="401.34" cy="1225.53" r="3.65" fill="#ffffff" stroke="#ff0000" stroke-width="1.2"/>
<circle cx="500.03" cy="1235.37" r="3.65" fill="#ffffff" stroke="#ff0000" stroke-width="1.2"/>
<polyline points="105.28,1213.72 203.96,1201.91 302.65,1210.55 401.34,1225.61 500.03,1203.36" fill="none" stroke="#00ff00" stroke-width="1.75" stroke-linejoin="round"/>
<polygon points="105.28,1208.45 100.48,1216.35 110.08,1216.35" fill="#ffffff" stroke="#00ff00" stroke-width="1.2" stroke-linejoin="miter"/>
<polygon points="203.96,1196.64 199.16,1204.54 208.76,1204.54" fill="#ffffff" stroke="#00ff00" stroke-width="1.2" stroke-linejoin="miter"/>
<polygon points="302.65,1205.28 297.85,1213.18 307.45,1213.18" fill="#ffffff" stroke="#00ff00" stroke-width="1.2" stroke-linejoin="miter"/>
<polygon points="401.34,1220.35 396.54,1228.25 406.14,1228.25" fill="#ffffff" stroke="#00ff00" stroke-width="1.2" stroke-linejoin="miter"/>
<polygon points="500.03,1198.10 495.23,1206.00 504.83,1206.00" fill="#ffffff" stroke="#00ff00" stroke-width="1.2" stroke-linejoin="miter"/>
<polyline points="105.28,1249.49 203.96,1236.91 302.65,1232.54 401.34,1233.06 500.03,1237.51" fill="none" stroke="#0000ff" stroke-width="1.75" stroke-linejoin="round"/>
<polygon points="100.48,1246.85 110.08,1246.85 105.28,1254.75" fill="#ffffff" stroke="#0000ff" stroke-width="1.2" stroke-linejoin="miter"/>
<polygon points="199.16,1234.28 208.76,1234.28 203.96,1242.18" fill="#ffffff" stroke="#0000ff" stroke-width="1.2" stroke-linejoin="miter"/>
<polygon points="297.85,1229.91 307.45,1229.91 302.65,1237.81" fill="#ffffff" stroke="#0000ff" stroke-width="1.2" stroke-linejoin="miter"/>
<polygon points="396.54,1230.42 406.14,1230.42 401.34,1238.32" fill="#ffffff" stroke="#0000ff" stroke-width="1.2" stroke-linejoin="miter"/>
<polygon points="495.23,1234.87 504.83,1234.87 500.03,1242.77" fill="#ffffff" stroke="#0000ff" stroke-width="1.2" stroke-linejoin="miter"/>
<rect x="65.80" y="973.50" width="473.70" height="385.10" fill="none" stroke="#000" stroke-width="1.5"/>
<line x1="65.80" y1="1358.60" x2="72.80" y2="1358.60" stroke="#000" stroke-width="1.5"/>
<line x1="65.80" y1="1337.21" x2="69.40" y2="1337.21" stroke="#000" stroke-width="1.5"/>
<text x="57.80" y="1363.40" font-size="16.4" text-anchor="end">80</text>
<line x1="65.80" y1="1315.81" x2="72.80" y2="1315.81" stroke="#000" stroke-width="1.5"/>
<line x1="65.80" y1="1294.42" x2="69.40" y2="1294.42" stroke="#000" stroke-width="1.5"/>
<text x="57.80" y="1320.61" font-size="16.4" text-anchor="end">85</text>
<line x1="65.80" y1="1273.02" x2="72.80" y2="1273.02" stroke="#000" stroke-width="1.5"/>
<line x1="65.80" y1="1251.63" x2="69.40" y2="1251.63" stroke="#000" stroke-width="1.5"/>
<text x="57.80" y="1277.82" font-size="16.4" text-anchor="end">90</text>
<line x1="65.80" y1="1230.23" x2="72.80" y2="1230.23" stroke="#000" stroke-width="1.5"/>
<line x1="65.80" y1="1208.84" x2="69.40" y2="1208.84" stroke="#000" stroke-width="1.5"/>
<text x="57.80" y="1235.03" font-size="16.4" text-anchor="end">95</text>
<line x1="65.80" y1="1187.44" x2="72.80" y2="1187.44" stroke="#000" stroke-width="1.5"/>
<line x1="65.80" y1="1166.05" x2="69.40" y2="1166.05" stroke="#000" stroke-width="1.5"/>
<text x="57.80" y="1192.24" font-size="16.4" text-anchor="end">100</text>
<line x1="65.80" y1="1144.66" x2="72.80" y2="1144.66" stroke="#000" stroke-width="1.5"/>
<line x1="65.80" y1="1123.26" x2="69.40" y2="1123.26" stroke="#000" stroke-width="1.5"/>
<text x="57.80" y="1149.46" font-size="16.4" text-anchor="end">105</text>
<line x1="65.80" y1="1101.87" x2="72.80" y2="1101.87" stroke="#000" stroke-width="1.5"/>
<line x1="65.80" y1="1080.47" x2="69.40" y2="1080.47" stroke="#000" stroke-width="1.5"/>
<text x="57.80" y="1106.67" font-size="16.4" text-anchor="end">110</text>
<line x1="65.80" y1="1059.08" x2="72.80" y2="1059.08" stroke="#000" stroke-width="1.5"/>
<line x1="65.80" y1="1037.68" x2="69.40" y2="1037.68" stroke="#000" stroke-width="1.5"/>
<text x="57.80" y="1063.88" font-size="16.4" text-anchor="end">115</text>
<line x1="65.80" y1="1016.29" x2="72.80" y2="1016.29" stroke="#000" stroke-width="1.5"/>
<line x1="65.80" y1="994.89" x2="69.40" y2="994.89" stroke="#000" stroke-width="1.5"/>
<text x="57.80" y="1021.09" font-size="16.4" text-anchor="end">120</text>
<line x1="65.80" y1="973.50" x2="72.80" y2="973.50" stroke="#000" stroke-width="1.5"/>
<text x="57.80" y="978.30" font-size="16.4" text-anchor="end">125</text>
<line x1="105.28" y1="1358.60" x2="105.28" y2="1351.60" stroke="#000" stroke-width="1.5"/>
<line x1="154.62" y1="1358.60" x2="154.62" y2="1355.00" stroke="#000" stroke-width="1.5"/>
<text x="105.28" y="1379.00" font-size="16.4" text-anchor="middle">0.0</text>
<line x1="203.96" y1="1358.60" x2="203.96" y2="1351.60" stroke="#000" stroke-width="1.5"/>
<line x1="253.31" y1="1358.60" x2="253.31" y2="1355.00" stroke="#000" stroke-width="1.5"/>
<text x="203.96" y="1379.00" font-size="16.4" text-anchor="middle">0.5</text>
<line x1="302.65" y1="1358.60" x2="302.65" y2="1351.60" stroke="#000" stroke-width="1.5"/>
<line x1="351.99" y1="1358.60" x2="351.99" y2="1355.00" stroke="#000" stroke-width="1.5"/>
<text x="302.65" y="1379.00" font-size="16.4" text-anchor="middle">1.0</text>
<line x1="401.34" y1="1358.60" x2="401.34" y2="1351.60" stroke="#000" stroke-width="1.5"/>
<line x1="450.68" y1="1358.60" x2="450.68" y2="1355.00" stroke="#000" stroke-width="1.5"/>
<text x="401.34" y="1379.00" font-size="16.4" text-anchor="middle">1.5</text>
<line x1="500.03" y1="1358.60" x2="500.03" y2="1351.60" stroke="#000" stroke-width="1.5"/>
<text x="500.03" y="1379.00" font-size="16.4" text-anchor="middle">2.0</text>
<text x="302.65" y="1409.10" font-size="19" text-anchor="middle">Transverse ventilation velocity(m/s)</text>
<text transform="translate(25.00,1165.60) rotate(-90)" x="0" y="0" font-size="19.5" text-anchor="middle">Temperature(℃)</text>
<text x="81.80" y="1435.90" font-size="18.5" textLength="422.80" lengthAdjust="spacingAndGlyphs">(<tspan font-weight="bold">c</tspan>) The longitudinal ventilation velocity is 0.4 m/s</text>
</svg>
</body></html>
